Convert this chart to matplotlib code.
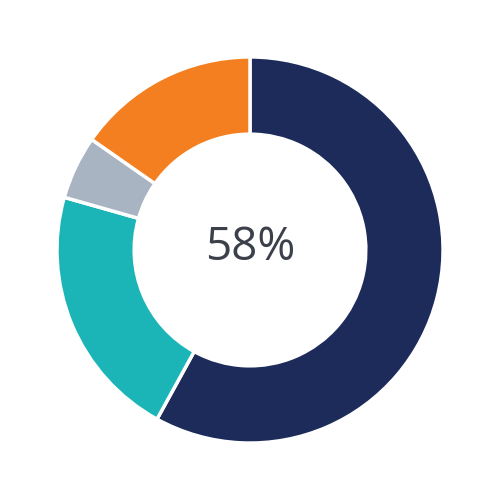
import matplotlib.pyplot as plt

# donut values (percent), clockwise from top
labels = ['Navy', 'Teal', 'Gray', 'Orange']
values = [58, 21.4, 5.3, 15.3]
colors = ['#1c2b5a', '#1bb5b8', '#a9b4c2', '#f47f20']
center_text = '58%'

fig = plt.figure(figsize=(5, 5), dpi=100)
ax = fig.add_axes([0, 0, 1, 1])
ax.pie(values, colors=colors, startangle=90, counterclock=False,
       radius=1.0,
       wedgeprops=dict(width=0.4, edgecolor='white', linewidth=2.5))
ax.text(0, 0.01, center_text, ha='center', va='center', fontsize=33,
        color='#3b404a', family='Open Sans')
ax.set_xlim(-1.295, 1.295)
ax.set_ylim(-1.295, 1.295)
ax.set_aspect('equal')
ax.axis('off')

plt.savefig('out.png', dpi=100, facecolor='white')
